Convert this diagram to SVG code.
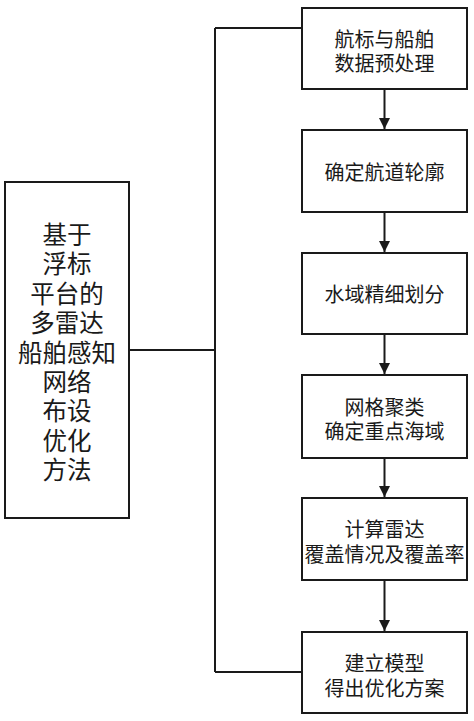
<svg xmlns="http://www.w3.org/2000/svg" width="474" height="721" viewBox="0 0 474 721">
<defs>
<style>
rect.box{fill:#fff;stroke:#1a1a1a;stroke-width:2}
.edge{fill:none;stroke:#1a1a1a;stroke-width:2}
text{font-family:"Noto Sans CJK SC","Noto Sans",sans-serif;fill:#1a1a1a;text-anchor:middle;dominant-baseline:central}
.r{font-size:20px}
.l{font-size:24.5px}
</style>
<marker id="ah" viewBox="0 0 10 10" refX="10" refY="5" markerWidth="11" markerHeight="11" markerUnits="userSpaceOnUse" orient="auto">
<path d="M0,0 L10,5 L0,10 z" fill="#1a1a1a"/>
</marker>
</defs>
<rect width="474" height="721" fill="#fff"/>
<g id="connectors">
<path class="edge" d="M129,350 H215"/>
<path class="edge" d="M215,28 V672"/>
<path class="edge" d="M215,28 H302"/>
<path class="edge" d="M215,672 H302"/>
<path class="edge" d="M384.5,89 V129" marker-end="url(#ah)"/>
<path class="edge" d="M384.5,212 V252" marker-end="url(#ah)"/>
<path class="edge" d="M384.5,334 V374" marker-end="url(#ah)"/>
<path class="edge" d="M384.5,458 V497" marker-end="url(#ah)"/>
<path class="edge" d="M384.5,580 V631" marker-end="url(#ah)"/>
</g>
<g id="main">
<rect class="box" x="5" y="182" width="124" height="336"/>
<text class="l"><tspan x="67" y="233">基于</tspan><tspan x="67" y="262.4">浮标</tspan><tspan x="67" y="291.8">平台的</tspan><tspan x="67" y="321.2">多雷达</tspan><tspan x="67" y="350.6">船舶感知</tspan><tspan x="67" y="380">网络</tspan><tspan x="67" y="409.4">布设</tspan><tspan x="67" y="438.8">优化</tspan><tspan x="67" y="468.2">方法</tspan></text>
</g>
<g id="step1">
<rect class="box" x="302" y="8" width="165" height="81"/>
<text class="r"><tspan x="384.5" y="38">航标与船舶</tspan><tspan x="384.5" y="62">数据预处理</tspan></text>
</g>
<g id="step2">
<rect class="box" x="302" y="130" width="165" height="82"/>
<text class="r" x="384.5" y="171">确定航道轮廓</text>
</g>
<g id="step3">
<rect class="box" x="302" y="253" width="165" height="81"/>
<text class="r" x="384.5" y="293.5">水域精细划分</text>
</g>
<g id="step4">
<rect class="box" x="302" y="375" width="165" height="83"/>
<text class="r"><tspan x="384.5" y="405.5">网格聚类</tspan><tspan x="384.5" y="430">确定重点海域</tspan></text>
</g>
<g id="step5">
<rect class="box" x="302" y="498" width="165" height="82"/>
<text class="r"><tspan x="384.5" y="528">计算雷达</tspan><tspan x="384.5" y="553">覆盖情况及覆盖率</tspan></text>
</g>
<g id="step6">
<rect class="box" x="302" y="632" width="165" height="81"/>
<text class="r"><tspan x="384.5" y="662">建立模型</tspan><tspan x="384.5" y="687">得出优化方案</tspan></text>
</g>
</svg>
